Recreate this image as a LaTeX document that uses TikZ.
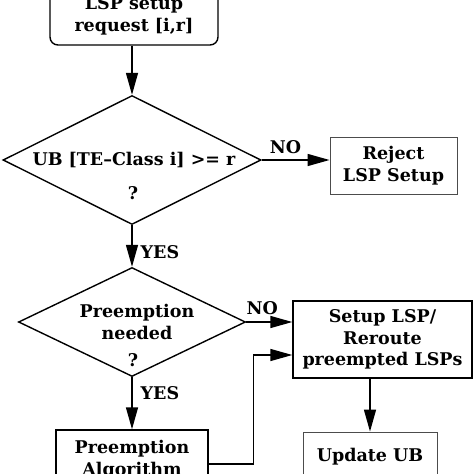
\documentclass[tikz,border=0pt]{standalone}
\usepackage{fontspec}
\setmainfont{DejaVu Serif}
\usepackage{tikz}
\usetikzlibrary{positioning, shapes.geometric, arrows.meta, calc}

\tikzset{
  flow/.style={draw, line width=1.4pt, -{Triangle[length=22pt,width=12pt]}},
  txt/.style={font=\fontsize{17.5}{21.5}\selectfont\bfseries, align=center, inner sep=0pt},
  startbox/.style={draw, line width=1.4pt, rounded corners=8pt, minimum width=168pt, minimum height=58pt},
  actbox/.style={draw, line width=1.4pt, rectangle},
  thinbox/.style={draw=black!70, line width=0.9pt, rectangle},
  decision/.style={draw, line width=1.4pt, diamond, inner sep=0pt, aspect=2}
}

\begin{document}
\begin{tikzpicture}[x=1pt, y=-1pt]
	\useasboundingbox (0,0) rectangle (474,474);
	\clip (0,0) rectangle (474,474);
	%% nodes
	\node[startbox, txt] (req) at (134,16) {LSP setup\\request [i,r]};
	\node[decision, minimum width=258pt, minimum height=129pt] (ub) at (132,160) {};
	\node[txt] (ubtxt) at (134,160) {UB [TE--Class i] >= r};
	\node[txt] (ubq) at (133,193) {?};
	\node[thinbox, txt, minimum width=127pt, minimum height=57pt] (rej) at (393.5,165.5) {Reject\\LSP Setup};
	\node[decision, minimum width=227pt, minimum height=109pt] (pre) at (132,322) {};
	\node[txt] (pretxt) at (137,322) {Preemption\\needed};
	\node[txt] (preq) at (133,360) {?};
	\node[actbox, txt, minimum width=179pt, minimum height=77pt] (setup) at (382.5,339.5) {Setup LSP/\\Reroute\\preempted LSPs};
	\node[actbox, txt, minimum width=152pt, minimum height=60pt] (alg) at (132,460) {Preemption\\Algorithm};
	\node[thinbox, txt, minimum width=134pt, minimum height=50pt] (upd) at (370,457) {Update UB};

	%% connectors
	\draw[flow] (req.south -| ub.north) -- (ub.north);
	\draw[flow] (ub.east) -- node[txt, above, yshift=6pt, pos=0.35] {NO} (ub.east -| rej.west);
	\draw[flow] (ub.south) -- node[txt, right, pos=0.45, yshift=-8pt, xshift=8pt] {YES} (pre.north);
	\draw[flow] (pre.east) -- node[txt, above, yshift=7pt, pos=0.35] {NO} (pre.east -| setup.west);
	\draw[flow] (pre.south) -- node[txt, right, pos=0.3, xshift=8pt] {YES} (alg.north);
	\draw[flow] ([yshift=-4pt]alg.east) -- ++(45,0) |- ([yshift=-15.5pt]setup.west);
	\draw[flow] (setup.south -| upd.north) -- (upd.north);
\end{tikzpicture}
\end{document}
